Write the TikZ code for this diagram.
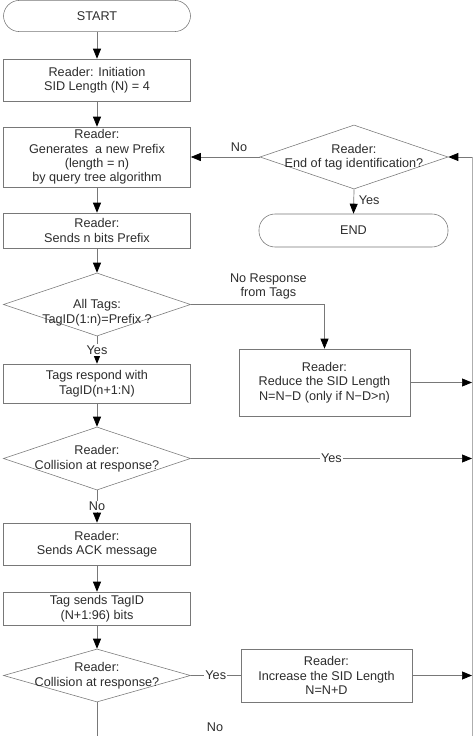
\documentclass[tikz,border=0pt]{standalone}
\usepackage{fontspec}
\setmainfont{Liberation Sans}
\usetikzlibrary{positioning, arrows.meta, shapes.geometric}
\definecolor{flowline}{RGB}{120,120,120}
\definecolor{flowtext}{RGB}{45,45,45}

\begin{document}
\begin{tikzpicture}[x=0.025cm, y=-0.025cm,
  font=\fontsize{9}{10.3}\selectfont,
  every node/.style={align=center, text=flowtext},
  proc/.style={rectangle, draw=flowline, fill=white,
               minimum width=4.675cm, inner sep=1pt},
  term/.style={proc, rounded corners=0.4cm, minimum height=0.78cm},
  decision/.style={diamond, draw=flowline, fill=white, inner sep=0pt,
                   minimum width=4.675cm, minimum height=1.575cm},
  lbl/.style={fill=white, inner sep=1pt},
  flow/.style={draw=flowline, line width=0.5pt},
  arr/.style={flow, -{Triangle[length=2.5mm, width=2mm, color=black]}}]
  \useasboundingbox (0,0) rectangle (474,736);

  % main column
  \node[term] (start) at (97,16) {START};
  \node[proc, minimum height=1.05cm] (init) at (97,80)
       {Reader: Initiation\\SID Length (N) = 4};
  \node[proc, minimum height=1.5cm] (prefix) at (97,157)
       {Reader:\\Generates~ a new Prefix\\(length = n)\\by query tree algorithm};
  \node[proc, minimum height=0.875cm] (sendpfx) at (97,230.5)
       {Reader:\\Sends n bits Prefix};
  \node[decision, label={[yshift=-0.2cm]center:{All Tags:\\TagID(1:n)=Prefix ?}}]
       (tagq) at (97,304.5) {};
  \node[proc, minimum height=0.975cm] (respond) at (97,383.5)
       {Tags respond with\\TagID(n+1:N)};
  \node[decision, label={center:{Reader:\\Collision at response?}}]
       (coll) at (97,458.5) {};
  \node[proc, minimum height=1.05cm] (ack) at (97,544)
       {Reader:\\Sends ACK message};
  \node[proc, minimum height=0.825cm] (tagsend) at (97,608.5)
       {Tag sends TagID\\(N+1:96) bits};
  \node[decision, minimum height=1.325cm,
        label={center:{Reader:\\Collision at response?}}]
       (colltwo) at (97,675.5) {};

  % right column
  \node[decision, minimum width=4.7cm, minimum height=1.6cm,
        label={center:{Reader:\\End of tag identification?}}]
       (endq) at (354,157) {};
  \node[term, minimum width=4.725cm, minimum height=0.825cm] (finish)
       at (353.5,230.5) {END};
  \node[proc, minimum width=4.275cm, minimum height=1.675cm] (reduce)
       at (324.5,382.5) {Reader:\\Reduce the SID Length\\N=N−D (only if N−D>n)};
  \node[proc, minimum width=4.275cm, minimum height=1.325cm] (incr)
       at (326.5,675.5) {Reader:\\Increase the SID Length\\N=N+D};

  \coordinate (rtop) at (472,157);
  \coordinate (rbot) at (472,736);
  \coordinate (bot) at (97,736);
  \node (nolast) at (215,727) {No};

  % connectors
  \draw[arr] (start) -- (init);
  \draw[arr] (init) -- (prefix);
  \draw[arr] (prefix) -- (sendpfx);
  \draw[arr] (sendpfx) -- (tagq);
  \draw[arr] (tagq) -- node[lbl] {Yes} (respond);
  \draw[arr] (tagq.east) -| node[above, pos=0.29] {No Response\\from Tags} (reduce.north);
  \draw[arr] (respond) -- (coll);
  \draw[arr] (coll) -- node[lbl] {No} (ack);
  \draw[arr] (coll.east) -- node[lbl] {Yes} (coll.east -| rtop);
  \draw[arr] (ack) -- (tagsend);
  \draw[arr] (tagsend) -- (colltwo);
  \draw[flow] (colltwo.east) -- node[lbl] {Yes} (incr.west);
  \draw[flow] (colltwo.south) -- (bot);
  \draw[arr] (reduce.east) -- (reduce.east -| rtop);
  \draw[arr] (incr.east) -- (incr.east -| rtop);
  \draw[flow, draw=flowline!60] (rbot) -- (rtop);
  \draw[arr] (rtop) -- (endq.east);
  \draw[arr] (endq.west) -- node[above, pos=0.3] {No} (prefix.east);
  \draw[arr] (endq.south) -- node[right, pos=0.45] {Yes} (finish.north);
\end{tikzpicture}
\end{document}
